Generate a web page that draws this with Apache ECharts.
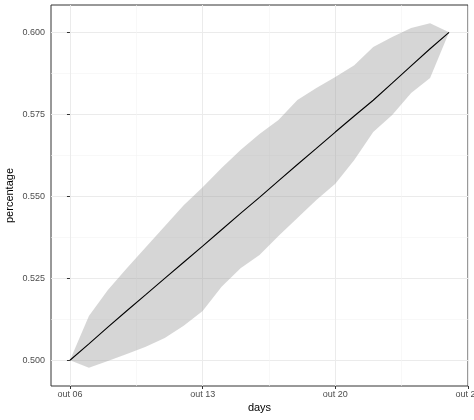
<!DOCTYPE html>
<html>
<head>
<meta charset="utf-8">
<script src="https://cdn.jsdelivr.net/npm/echarts@6/dist/echarts.min.js"></script>
<style>
html,body{margin:0;padding:0;background:#fff;}
#chart{width:474px;height:420px;}
</style>
</head>
<body>
<div id="chart"></div>
<script>
// Day labels (October, pt-BR "out")
const dayLabels = ["out 06","out 07","out 08","out 09","out 10","out 11","out 12","out 13","out 14","out 15","out 16","out 17","out 18","out 19","out 20","out 21","out 22","out 23","out 24","out 25","out 26"];
// central estimate
const meanValues = [0.5000,0.5050,0.5101,0.5151,0.5200,0.5250,0.5299,0.5348,0.5398,0.5448,0.5497,0.5547,0.5597,0.5646,0.5696,0.5745,0.5793,0.5845,0.5898,0.5950,0.6000];
// ribbon bounds
const upperValues = [0.5000,0.5135,0.5214,0.5281,0.5345,0.5409,0.5473,0.5528,0.5586,0.5641,0.5690,0.5733,0.5794,0.5830,0.5864,0.5900,0.5955,0.5986,0.6013,0.6028,0.6000];
const lowerValues = [0.5000,0.4977,0.4998,0.5019,0.5041,0.5068,0.5105,0.5150,0.5224,0.5281,0.5321,0.5379,0.5434,0.5489,0.5538,0.5611,0.5696,0.5748,0.5815,0.5861,0.6000];
// axis ticks
const xTickValues = [0, 7, 14, 21];
const xTickLabels = ["out 06", "out 13", "out 20", "out 27"];
const xMinorValues = [3.5, 10.5, 17.5];
const yTickValues = [0.500, 0.525, 0.550, 0.575, 0.600];
const yMinorValues = [0.5125, 0.5375, 0.5625, 0.5875];

const dayIdx = dayLabels.map((_, i) => i);
const bandData = dayIdx.map(i => [i, lowerValues[i], upperValues[i]]);
const meanData = dayIdx.map(i => [i, meanValues[i]]);

const font = "Liberation Sans";
const chart = echarts.init(document.getElementById('chart'), null, {renderer: 'canvas'});

const xRange = {min: -1, max: 21};
const yRange = {min: 0.49216, max: 0.60834};

function renderBand(params, api) {
  if (params.dataIndex !== 0) return null;
  const top = [], bottom = [];
  for (let i = 0; i < bandData.length; i++) {
    top.push(api.coord([bandData[i][0], bandData[i][2]]));
    bottom.push(api.coord([bandData[i][0], bandData[i][1]]));
  }
  const pts = top.concat(bottom.reverse());
  return {
    type: 'polygon',
    shape: {points: pts},
    style: {fill: 'rgba(153,153,153,0.4)', stroke: null},
    silent: true
  };
}

chart.setOption({
  animation: false,
  backgroundColor: '#ffffff',
  grid: {left: 51, top: 5, right: 6, bottom: 34, show: true, borderColor: '#333333', borderWidth: 1,
         backgroundColor: '#ffffff', containLabel: false, outerBoundsMode: 'none'},
  xAxis: [
    {
      type: 'value', ...xRange,
      name: 'days', nameLocation: 'middle', nameGap: 16, nameMoveOverlap: false,
      nameTextStyle: {fontFamily: font, fontSize: 11, color: '#000'},
      axisLine: {show: false},
      axisTick: {show: true, length: 3, lineStyle: {color: '#333333', width: 1}, customValues: xTickValues},
      axisLabel: {show: true, margin: 4, fontFamily: font, fontSize: 9, color: '#4d4d4d', customValues: xTickValues,
        alignMaxLabel: 'center', alignMinLabel: 'center', hideOverlap: false,
        formatter: v => { const k = xTickValues.indexOf(v); return k >= 0 ? xTickLabels[k] : ''; }},
      splitLine: {show: true, lineStyle: {color: '#ebebeb', width: 1}}
    },
    {
      type: 'value', ...xRange, position: 'bottom',
      axisLine: {show: false},
      axisTick: {show: false, customValues: xMinorValues},
      axisLabel: {show: false, customValues: xMinorValues},
      splitLine: {show: true, lineStyle: {color: '#f4f4f4', width: 0.6}}
    }
  ],
  yAxis: [
    {
      type: 'value', ...yRange,
      name: 'percentage', nameLocation: 'middle', nameGap: 36, nameMoveOverlap: false,
      nameTextStyle: {fontFamily: font, fontSize: 11, color: '#000'},
      axisLine: {show: false},
      axisTick: {show: true, length: 3, lineStyle: {color: '#333333', width: 1}, customValues: yTickValues},
      axisLabel: {show: true, margin: 6, fontFamily: font, fontSize: 9, color: '#4d4d4d', customValues: yTickValues,
        formatter: v => v.toFixed(3)},
      splitLine: {show: true, lineStyle: {color: '#ebebeb', width: 1}}
    },
    {
      type: 'value', ...yRange, position: 'left',
      axisLine: {show: false},
      axisTick: {show: false, customValues: yMinorValues},
      axisLabel: {show: false, customValues: yMinorValues},
      splitLine: {show: true, lineStyle: {color: '#f4f4f4', width: 0.6}}
    }
  ],
  series: [
    {
      type: 'custom', data: bandData, renderItem: renderBand,
      encode: {x: 0, y: [1, 2]}, silent: true, clip: true
    },
    {
      type: 'line', data: meanData, symbol: 'none',
      lineStyle: {color: '#000000', width: 1.1}
    }
  ]
});
</script>
</body>
</html>
